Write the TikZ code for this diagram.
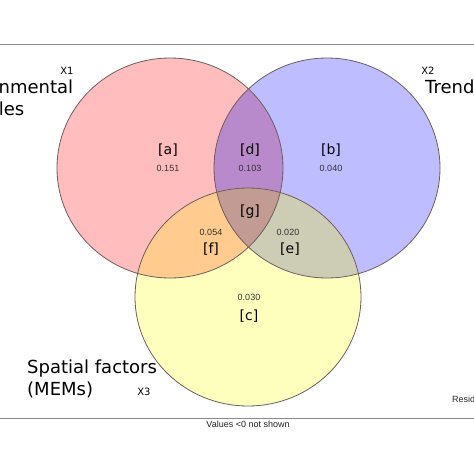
\documentclass[tikz,border=0pt]{standalone}
\usepackage{fontspec}
\setmainfont{DejaVu Sans}
\newfontfamily\arialf{Liberation Sans}
\definecolor{redf}{HTML}{FFBDBD}
\definecolor{bluef}{HTML}{BDBDFF}
\definecolor{yelf}{HTML}{FFFFBD}
\definecolor{dcol}{HTML}{B98ACB}
\definecolor{fcol}{HTML}{FFCB8F}
\definecolor{ecol}{HTML}{CDCDB5}
\definecolor{gcol}{HTML}{C29C92}
\definecolor{edgec}{HTML}{6E5E5E}
\definecolor{rulec}{HTML}{8A8A8A}
\begin{document}
\begin{tikzpicture}[x=1pt,y=-1pt,
  big/.style={font=\fontsize{14}{16}\selectfont, inner sep=0pt},
  num/.style={font=\arialf\fontsize{9}{10}\selectfont, inner sep=0pt, text=black!80},
  setname/.style={font=\fontsize{18}{22}\selectfont, inner sep=0pt, align=left},
  xlab/.style={font=\fontsize{10}{11}\selectfont, inner sep=0pt},
  small/.style={font=\arialf\fontsize{9}{10}\selectfont, inner sep=0pt, text=black!85},
  outline/.style={draw=edgec, line width=0.8pt}]
\useasboundingbox (0,0) rectangle (474,474);
\fill[white] (0,0) rectangle (474,474);
% rules
\coordinate (tl) at (0,44);
\coordinate (tr) at (474,44);
\coordinate (bl) at (0,418);
\coordinate (br) at (474,418);
\draw[rulec, line width=1pt] (tl) -- (tr);
\draw[rulec, line width=1pt] (bl) -- (br);
% base fills
\fill[redf] (170,168) ellipse [x radius=113pt, y radius=110pt];
\fill[bluef] (327,168) ellipse [x radius=113pt, y radius=110pt];
\fill[yelf] (248,297) ellipse [x radius=113pt, y radius=109pt];
% intersections
\begin{scope}
  \clip (170,168) ellipse [x radius=113pt, y radius=110pt];
  \fill[dcol] (327,168) ellipse [x radius=113pt, y radius=110pt];
  \fill[fcol] (248,297) ellipse [x radius=113pt, y radius=109pt];
\end{scope}
\begin{scope}
  \clip (327,168) ellipse [x radius=113pt, y radius=110pt];
  \fill[ecol] (248,297) ellipse [x radius=113pt, y radius=109pt];
  \clip (248,297) ellipse [x radius=113pt, y radius=109pt];
  \fill[gcol] (170,168) ellipse [x radius=113pt, y radius=110pt];
\end{scope}
% outlines
\draw[outline] (170,168) ellipse [x radius=113pt, y radius=110pt];
\draw[outline] (327,168) ellipse [x radius=113pt, y radius=110pt];
\draw[outline] (248,297) ellipse [x radius=113pt, y radius=109pt];
% region labels
\node[big] (la) at (168,150) {[a]};
\node[num] (va) at (168,168) {0.151};
\node[big] (ld) at (250,150) {[d]};
\node[num] (vd) at (250,168) {0.103};
\node[big] (lb) at (331,150) {[b]};
\node[num] (vb) at (331,168) {0.040};
\node[big] (lg) at (250,212) {[g]};
\node[num] (vf) at (211,232) {0.054};
\node[big] (lf) at (211,249) {[f]};
\node[num] (ve) at (288,232) {0.020};
\node[big] (le) at (290,249) {[e]};
\node[num] (vc) at (249,297) {0.030};
\node[big] (lc) at (249,316) {[c]};
% set names
\node[xlab] (x1) at (67,71) {X1};
\node[setname, anchor=north west] (env) at (-58,80) {Environmental\\variables};
\node[xlab] (x2) at (428,71) {X2};
\node[setname, anchor=north west] (trend) at (425,80) {Trend};
\node[setname, anchor=north west] (spat) at (27,360) {Spatial factors\\(MEMs)};
\node[xlab] (x3) at (144,392) {X3};
\node[small, anchor=west] (resid) at (452,399) {Residuals};
\node[small] (note) at (248,424) {Values <0 not shown};
\end{tikzpicture}
\end{document}
